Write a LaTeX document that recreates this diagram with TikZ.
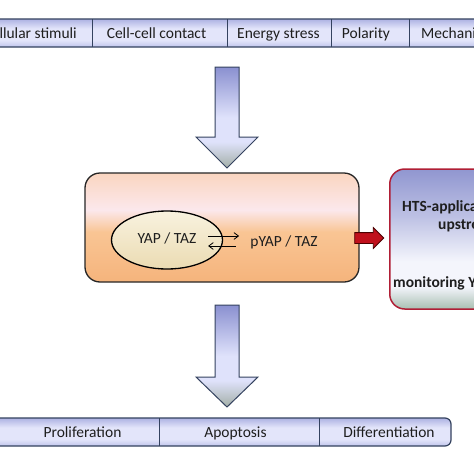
\documentclass[tikz,border=0pt]{standalone}
\usepackage{fontspec}
\setmainfont{Carlito}
\usepackage{tikz}
\usetikzlibrary{arrows.meta,shapes.geometric,shapes.arrows,positioning}

\definecolor{barline}{HTML}{34425F}
\definecolor{bartop}{HTML}{ADB2E2}
\definecolor{barmid}{HTML}{E3E5FA}
\definecolor{barbot}{HTML}{C0C4EC}
\definecolor{arrtop}{HTML}{8A90D0}
\definecolor{arrmid}{HTML}{DFE2FB}
\definecolor{arrtip}{HTML}{A3AFA7}
\definecolor{coretop}{HTML}{FAD5C0}
\definecolor{corepink}{HTML}{FBE8EC}
\definecolor{coreorange}{HTML}{F9C594}
\definecolor{corebot}{HTML}{F5B47C}
\definecolor{yaptop}{HTML}{F8F2DF}
\definecolor{yapbot}{HTML}{EBDBB2}
\definecolor{htsline}{HTML}{B01E35}
\definecolor{htstop}{HTML}{9096D0}
\definecolor{htsmid}{HTML}{F4F5FC}
\definecolor{htsbot}{HTML}{A8BFB1}
\definecolor{linkred}{HTML}{C0101C}
\definecolor{inktext}{HTML}{1E1E1E}

\pgfdeclareverticalshading{barshade}{100bp}{color(0bp)=(barbot); color(25bp)=(barbot);
  color(37bp)=(barmid); color(58bp)=(barmid); color(75bp)=(bartop); color(100bp)=(bartop)}
\pgfdeclareverticalshading{arrowshade}{100bp}{color(0bp)=(arrtip); color(25bp)=(arrtip);
  color(38bp)=(arrmid); color(50bp)=(arrmid); color(75bp)=(arrtop); color(100bp)=(arrtop)}
\pgfdeclareverticalshading{coreshade}{100bp}{color(0bp)=(corebot); color(25bp)=(corebot);
  color(48bp)=(coreorange); color(58bp)=(corepink); color(75bp)=(coretop); color(100bp)=(coretop)}
\pgfdeclareverticalshading{htsshade}{100bp}{color(0bp)=(htsbot); color(25bp)=(htsbot);
  color(33bp)=(htsmid); color(42bp)=(htsmid); color(58bp)=(htsmid!45!htstop);
  color(75bp)=(htstop); color(100bp)=(htstop)}

\begin{document}
\begin{tikzpicture}[
    x=1pt, y=-1pt,
    font=\fontsize{15.5}{18}\selectfont,
    >={Straight Barb[length=1.6mm,width=2.4mm]},
    lab/.style={inner sep=2pt, text=inktext, text height=11pt, text depth=3.5pt},
    boldlab/.style={lab, font=\fontsize{15.5}{18}\selectfont\bfseries, anchor=west},
    barbox/.style={shade, shading=barshade, draw=barline, line width=1.2pt, rounded corners=6pt},
    divider/.style={draw=barline, line width=1pt},
    blockarrow/.style={shade, shading=arrowshade, draw=barline, line width=1pt},
  ]
  \fill[white] (0,0) rectangle (474,474);
  \useasboundingbox (0,0) rectangle (474,474);
  \clip (0,0) rectangle (474,474);

  %% ---- upstream signals ---------------------------------------------
  \path[barbox] (-30,19) rectangle (520,47);
  \foreach \x in {92,227,331,409} \draw[divider] (\x,19) -- (\x,47);
  \node[lab, anchor=east] (stim) at (79,34.25) {Extracellular stimuli};
  \node[lab] (contact)  at (156.5,34.25) {Cell-cell contact};
  \node[lab] (energy)   at (278.5,34.25) {Energy stress};
  \node[lab] (polarity) at (366,34.25)   {Polarity};
  \node[lab, anchor=west] (mech) at (419,34.25) {Mechanical cues};

  \path[blockarrow] (215,67) -- (239,67) -- (239,137) -- (258,137) -- (227,168)
    -- (196,137) -- (215,137) -- cycle;

  %% ---- YAP/TAZ core ---------------------------------------------------
  \node[draw=black!85, line width=1.3pt, rounded corners=15pt, shade, shading=coreshade,
        minimum width=274pt, minimum height=109pt] (core) at (222,227.5) {};
  \node[lab, ellipse, draw=black, line width=1.3pt, top color=yaptop, bottom color=yapbot,
        minimum width=111pt, minimum height=58pt, inner sep=0pt] (yap) at (167,240) {YAP / TAZ};
  \node[lab] (pyap) at (284,242.25) {pYAP / TAZ};
  \draw[->, line width=0.8pt] ([xshift=-15pt,yshift=4pt]yap.east) -- ++(31,0);
  \draw[<-, line width=0.8pt] ([xshift=-15pt,yshift=-6pt]yap.east) -- ++(28,0);

  %% ---- readout --------------------------------------------------------
  \node[single arrow, draw=black!70!red, fill=linkred, line width=0.8pt,
        inner xsep=0pt, inner ysep=5pt, minimum height=29pt,
        single arrow head extend=5pt] (link) at (366.5,238) {};
  \node[draw=htsline, line width=1.5pt, rounded corners=15pt, shade, shading=htsshade,
        minimum width=200pt, minimum height=140pt, anchor=west] (hts) at (389,239) {};
  \node[boldlab] (htsa) at (400,208) {HTS-applicable assays for};
  \node[boldlab] (htsb) at (436,226) {upstream regulators};
  \node[boldlab] (htsc) at (391,284) {monitoring YAP/TAZ};

  \path[blockarrow] (215,305) -- (239,305) -- (239,377) -- (258,377) -- (227,407)
    -- (196,377) -- (215,377) -- cycle;

  %% ---- cellular outcomes ----------------------------------------------
  \path[barbox] (-30,418) rectangle (451,446);
  \foreach \x in {159,319} \draw[divider] (\x,418) -- (\x,446);
  \node[lab] (prolif) at (82.5,433.25) {Proliferation};
  \node[lab] (apop)   at (235.5,433.25) {Apoptosis};
  \node[lab] (diff)   at (389,433.25) {Differentiation};
\end{tikzpicture}
\end{document}
